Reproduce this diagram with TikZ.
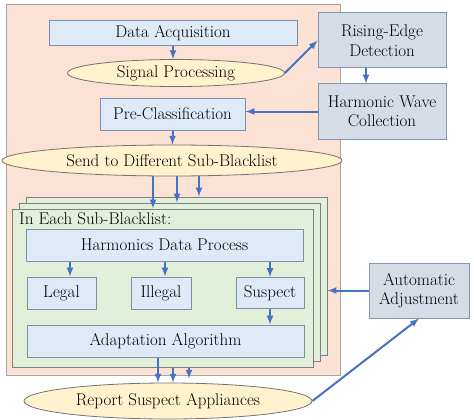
\documentclass[tikz,border=0pt]{standalone}
\usepackage{tikz}
\usetikzlibrary{arrows, shapes.geometric}

\definecolor{bgfill}{RGB}{251,226,213}
\definecolor{bgline}{RGB}{165,165,165}
\definecolor{boxfill}{RGB}{221,234,247}
\definecolor{boxline}{RGB}{125,143,170}
\definecolor{ovalfill}{RGB}{255,242,204}
\definecolor{ovalline}{RGB}{115,115,115}
\definecolor{subfill}{RGB}{226,240,217}
\definecolor{subline}{RGB}{120,130,132}
\definecolor{sidefill}{RGB}{214,220,229}
\definecolor{sideline}{RGB}{132,151,176}
\definecolor{arrowblue}{RGB}{68,114,196}

\begin{document}
\begin{tikzpicture}[
    x = 1pt,
    y = -1pt,
    font = \fontsize{17}{19.5}\selectfont,
    >=latex,
    ]

    \tikzstyle{box}=[
    draw = boxline,
    fill = boxfill,
    line width = 1pt,
    inner sep = 0pt,
    ]
    \tikzstyle{oval}=[
    ellipse,
    draw = ovalline,
    fill = ovalfill,
    line width = 0.8pt,
    inner sep = 0pt,
    ]
    \tikzstyle{side}=[
    draw = sideline,
    fill = sidefill,
    line width = 1pt,
    inner sep = 0pt,
    align = center,
    ]
    \tikzstyle{sub}=[
    draw = subline,
    fill = subfill,
    line width = 1pt,
    minimum width = 301pt,
    minimum height = 158pt,
    ]
    \tikzstyle{arr}=[
    ->,
    draw = arrowblue,
    line width = 2pt,
    ]

    \useasboundingbox (0,0) rectangle (474,420);

    \node[draw = bgline, fill = bgfill, line width = 1pt, minimum width = 334pt, minimum height = 370pt] (bg) at (173,190) {};

    \node[sub] (g3) at (176.5,276) {};
    \node[sub] (g2) at (170,282) {};
    \node[sub] (g1) at (163,288) {};

    \node[box, minimum width = 248pt, minimum height = 25pt] (da) at (173,33.5) {Data Acquisition};
    \node[oval, minimum width = 217pt, minimum height = 27pt] (sp) at (176,73) {Signal Processing};
    \node[side, minimum width = 128pt, minimum height = 55pt] (re) at (382,40.5) {Rising-Edge\\Detection};
    \node[side, minimum width = 128pt, minimum height = 55pt] (hw) at (382,111.5) {Harmonic Wave\\Collection};
    \node[box, minimum width = 145pt, minimum height = 32pt] (pc) at (172.5,114) {Pre-Classification};
    \node[oval, minimum width = 340pt, minimum height = 31pt] (sd) at (172,160.5) {Send to Different Sub-Blacklist};

    \node[anchor = west, inner sep = 0pt] (ie) at (19,219) {In Each Sub-Blacklist:};
    \node[box, minimum width = 277pt, minimum height = 32pt] (hd) at (164.5,245) {Harmonics Data Process};
    \node[box, minimum width = 69pt, minimum height = 32pt] (lg) at (61.5,293) {Legal};
    \node[box, minimum width = 60pt, minimum height = 32pt] (il) at (161,293) {Illegal};
    \node[box, minimum width = 68pt, minimum height = 31pt] (su) at (270,293) {Suspect};
    \node[box, minimum width = 277pt, minimum height = 32pt] (aa) at (165.5,341) {Adaptation Algorithm};

    \node[oval, minimum width = 288pt, minimum height = 36pt] (rp) at (168,401) {Report Suspect Appliances};
    \node[side, minimum width = 100pt, minimum height = 55pt] (au) at (419,290.5) {Automatic\\Adjustment};

    \draw[arr] (da.south) -- (da.south |- sp.north);
    \draw[arr] (sp.east) -- (re.west);
    \draw[arr] ([xshift=-16pt]re.south) -- ([xshift=-16pt]hw.north);
    \draw[arr] (hw.west) -- (pc.east |- hw.west);
    \draw[arr] (pc.south) -- (pc.south |- sd.north);
    \draw[arr] ([xshift=-19pt]sd.south) -- ([xshift=-19pt]sd.south |- g1.north);
    \draw[arr] ([xshift=5pt]sd.south) -- ([xshift=5pt]sd.south |- g2.north);
    \draw[arr] ([xshift=27pt]sd.south) -- ([xshift=27pt]sd.south |- g3.north);
    \draw[arr] ([xshift=8.5pt]lg.north |- hd.south) -- ([xshift=8.5pt]lg.north);
    \draw[arr] ([xshift=4pt]il.north |- hd.south) -- ([xshift=4pt]il.north);
    \draw[arr] (su.north |- hd.south) -- (su.north);
    \draw[arr] (su.south) -- (su.south |- aa.north);
    \draw[arr] ([xshift=-10pt]rp.north |- aa.south) -- ([xshift=-10pt]rp.north);
    \draw[arr] ([xshift=5pt]rp.north |- g1.south) -- ([xshift=5pt]rp.north);
    \draw[arr, shorten >=4pt] ([xshift=21pt]rp.north |- g1.south) -- ([xshift=21pt]rp.north);
    \draw[arr] (au.west) -- (au.west -| g3.east);
    \draw[arr] (rp.east) -- (au.south);
  \end{tikzpicture}
\end{document}
